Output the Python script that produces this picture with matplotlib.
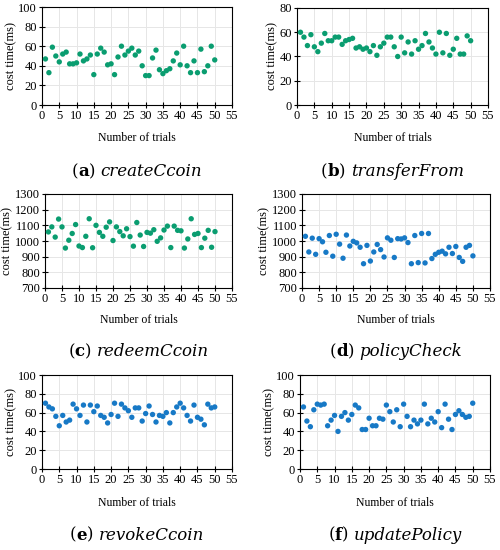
import matplotlib
matplotlib.use("Agg")
import matplotlib.pyplot as plt
import numpy as np

trials = list(range(1, 51))

create_ccoin = [47, 33, 59, 50, 44, 52, 54, 42, 42, 43, 52, 45, 47, 51, 31, 52, 58, 54, 41, 42,
                31, 49, 60, 51, 55, 58, 51, 55, 40, 30, 30, 48, 56, 36, 32, 35, 37, 45, 53, 41,
                60, 40, 33, 45, 33, 57, 34, 40, 60, 46]
transfer_from = [60, 56, 49, 58, 48, 44, 51, 59, 53, 53, 56, 56, 50, 53, 54, 55, 47, 48, 46, 47,
                 44, 49, 41, 48, 51, 56, 56, 48, 40, 56, 43, 52, 42, 53, 46, 49, 59, 52, 47, 42,
                 60, 43, 59, 41, 46, 55, 42, 42, 57, 53]
redeem_ccoin = [1058, 1090, 1025, 1140, 1090, 955, 1005, 1048, 1105, 968, 958, 1030, 1142, 957, 1100,
                1055, 1030, 1088, 1122, 1003, 1090, 1060, 1033, 1078, 1028, 967, 1118, 1038, 965, 1055,
                1050, 1072, 998, 1020, 1070, 1095, 958, 1095, 1068, 1065, 955, 1013, 1142, 1042, 1048,
                958, 1018, 1068, 960, 1060]
policy_check = [1030, 930, 1018, 915, 1015, 995, 928, 1035, 903, 1043, 980, 890, 1038, 968, 998,
                988, 960, 855, 972, 872, 930, 978, 945, 898, 1020, 1005, 895, 1015, 1013, 1020,
                990, 855, 1035, 862, 1048, 860, 1048, 888, 915, 928, 935, 918, 960, 920, 965,
                895, 870, 960, 972, 905]
revoke_ccoin = [70, 66, 64, 56, 46, 57, 50, 52, 69, 64, 57, 68, 50, 68, 61, 67, 57, 55, 49, 58,
                70, 56, 69, 65, 62, 55, 65, 65, 51, 59, 67, 58, 50, 57, 56, 60, 49, 60, 66, 70,
                65, 57, 51, 68, 55, 53, 47, 69, 65, 66]
update_policy = [66, 51, 45, 63, 69, 68, 69, 46, 52, 57, 40, 56, 60, 52, 58, 68, 65, 42, 42, 54,
                 46, 46, 54, 53, 68, 61, 50, 63, 45, 69, 56, 45, 52, 48, 52, 69, 48, 54, 50, 61,
                 44, 69, 53, 42, 58, 62, 58, 55, 56, 70]

letters = ["a", "b", "c", "d", "e", "f"]
names = ["createCcoin", "transferFrom", "redeemCcoin", "policyCheck", "revokeCcoin", "updatePolicy"]
series = [create_ccoin, transfer_from, redeem_ccoin, policy_check, revoke_ccoin, update_policy]
ylims = [(0, 100), (0, 80), (700, 1300), (700, 1300), (0, 100), (0, 100)]
ysteps = [20, 20, 100, 100, 20, 20]
GREEN = "#0a9d70"
BLUE = "#1779c6"
colors = [GREEN, GREEN, GREEN, BLUE, BLUE, BLUE]

plt.rcParams['font.family'] = ['Liberation Serif', 'DejaVu Serif']

W, H = 500, 550
fig = plt.figure(figsize=(5, 5.5), dpi=100)
renderer = fig.canvas.get_renderer()

# pixel boxes: left, right, top, bottom
boxes = [
    (42, 232, 7, 105),
    (297, 488, 8, 105),
    (45, 232, 194, 288),
    (302, 490, 194, 288),
    (42, 232, 375, 469),
    (300, 490, 375, 469),
]
xlabel_y = [138, 138, 320, 320, 503, 503]
caption_y = [172, 172, 352, 352, 535, 535]

for i in range(6):
    l, r, t, b = boxes[i]
    ax = fig.add_axes([l / W, 1 - b / H, (r - l) / W, (b - t) / H])
    ax.scatter(trials, series[i], s=15, color=colors[i], edgecolors='none', zorder=3)
    ax.set_xlim(0, 55)
    ax.set_ylim(*ylims[i])
    ax.set_xticks(np.arange(0, 56, 5))
    ax.set_yticks(np.arange(ylims[i][0], ylims[i][1] + 1, ysteps[i]))
    ax.grid(True, color='#e6e6e6', linewidth=0.7, zorder=0)
    ax.tick_params(direction='inout', length=4, width=0.8, labelsize=9, pad=1.5)
    for s in ax.spines.values():
        s.set_linewidth(0.8)
    ax.set_ylabel("cost time(ms)", fontsize=9, labelpad=1)

    cx = (l + r) / 2
    fig.text(cx / W, 1 - xlabel_y[i] / H, "Number of trials", ha='center', va='center', fontsize=8.5)

    # caption "(x) name" with bold letter and italic name
    y = 1 - caption_y[i] / H
    pieces = [("(", 'normal', 'normal'), (letters[i], 'bold', 'normal'), (") ", 'normal', 'normal'),
              (names[i], 'normal', 'italic')]
    widths = []
    for txt, wgt, sty in pieces:
        tt = fig.text(0, 0, txt, fontsize=12, fontweight=wgt, fontstyle=sty, family=['DejaVu Serif'])
        widths.append(tt.get_window_extent(renderer=renderer).width)
        tt.remove()
    x = cx - sum(widths) / 2
    for (txt, wgt, sty), w in zip(pieces, widths):
        fig.text(x / W, y, txt, fontsize=12, fontweight=wgt, fontstyle=sty,
                 family=['DejaVu Serif'], ha='left', va='center')
        x += w

fig.savefig("out.png", dpi=100)
